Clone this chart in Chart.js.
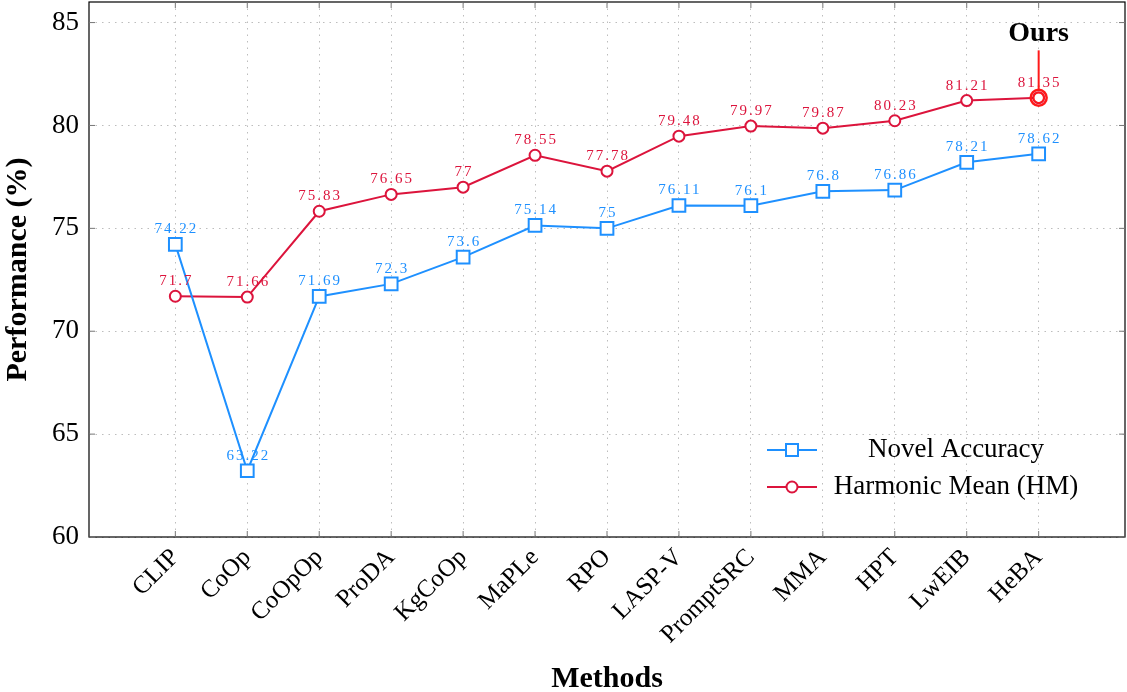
<!DOCTYPE html>
<html>
<head>
<meta charset="utf-8">
<script src="https://cdn.jsdelivr.net/npm/chart.js@4.4.0/dist/chart.umd.min.js"></script>
<style>
  html, body { margin: 0; padding: 0; background: #fff; }
  #wrap { width: 1127px; height: 692px; }
</style>
</head>
<body>
<div id="wrap"><canvas id="perfChart"></canvas></div>
<script>
const methods = ['CLIP', 'CoOp', 'CoOpOp', 'ProDA', 'KgCoOp', 'MaPLe', 'RPO', 'LASP-V', 'PromptSRC', 'MMA', 'HPT', 'LwEIB', 'HeBA'];
const novelAcc = [74.22, 63.22, 71.69, 72.3, 73.6, 75.14, 75, 76.11, 76.1, 76.8, 76.86, 78.21, 78.62];
const harmonicMean = [71.7, 71.66, 75.83, 76.65, 77, 78.55, 77.78, 79.48, 79.97, 79.87, 80.23, 81.21, 81.35];
const yTicks = [60, 65, 70, 75, 80, 85];

// "Ours" callout, in data units
const oursIndex = 12;
const oursLineTop = 83.65;
const oursTextY = 84.45;

const BLUE = '#1e90ff';
const RED = '#dc143c';
const OURS_RED = '#ff1a1a';
const SERIF = "'Liberation Serif', 'DejaVu Serif', serif";

const seriesValues = [novelAcc, harmonicMean];

const extras = {
    id: 'extras',
    afterDatasetsDraw(chart) {
        const c = chart.ctx;
        const area = chart.chartArea;
        const xs = chart.scales.x;
        const ys = chart.scales.y;

        // frame
        c.save();
        c.strokeStyle = '#000';
        c.lineWidth = 1.2;
        c.strokeRect(area.left, area.top, area.right - area.left, area.bottom - area.top);

        // inner tick marks
        c.strokeStyle = '#777';
        c.lineWidth = 1;
        c.beginPath();
        methods.forEach((m, i) => {
            const px = xs.getPixelForValue(i);
            c.moveTo(px, area.bottom); c.lineTo(px, area.bottom - 6);
            c.moveTo(px, area.top); c.lineTo(px, area.top + 6);
        });
        yTicks.forEach(v => {
            const py = ys.getPixelForValue(v);
            c.moveTo(area.left, py); c.lineTo(area.left + 6, py);
            c.moveTo(area.right, py); c.lineTo(area.right - 6, py);
        });
        c.stroke();

        // value labels
        c.font = '15px ' + SERIF;
        c.letterSpacing = '2px';
        c.textAlign = 'center';
        c.textBaseline = 'middle';
        chart.data.datasets.forEach((ds, di) => {
            const meta = chart.getDatasetMeta(di);
            c.fillStyle = ds.borderColor;
            meta.data.forEach((pt, i) => {
                c.fillText(String(seriesValues[di][i]), pt.x + 1, pt.y - 15);
            });
        });
        c.letterSpacing = '0px';

        // highlight for "Ours"
        const ox = xs.getPixelForValue(oursIndex);
        const oy = ys.getPixelForValue(harmonicMean[oursIndex]);
        c.strokeStyle = OURS_RED;
        c.lineWidth = 2.5;
        c.beginPath();
        c.arc(ox, oy, 8, 0, Math.PI * 2);
        c.stroke();
        c.lineWidth = 1.5;
        c.beginPath();
        c.arc(ox, oy, 5, 0, Math.PI * 2);
        c.stroke();
        c.lineWidth = 2;
        c.beginPath();
        c.moveTo(ox, oy - 8);
        c.lineTo(ox, ys.getPixelForValue(oursLineTop));
        c.stroke();
        c.fillStyle = '#000';
        c.font = 'bold 28px ' + SERIF;
        c.fillText('Ours', ox, ys.getPixelForValue(oursTextY));

        // legend
        const rows = [
            { label: 'Novel Accuracy', color: BLUE, style: 'rect', y: area.bottom - 87 },
            { label: 'Harmonic Mean (HM)', color: RED, style: 'circle', y: area.bottom - 50 }
        ];
        c.font = '27px ' + SERIF;
        rows.forEach(r => {
            const x0 = area.right - 358;
            c.strokeStyle = r.color;
            c.lineWidth = 2;
            c.beginPath();
            c.moveTo(x0, r.y); c.lineTo(x0 + 50, r.y);
            c.stroke();
            c.fillStyle = '#fff';
            c.beginPath();
            if (r.style === 'rect') c.rect(x0 + 19, r.y - 6, 12, 12);
            else c.arc(x0 + 25, r.y, 5.5, 0, Math.PI * 2);
            c.fill();
            c.stroke();
            c.fillStyle = '#000';
            c.fillText(r.label, area.right - 169, r.y);
        });
        c.restore();
    }
};

const gridStyle = {
    color: '#bdbdbd',
    lineWidth: 1,
    drawTicks: false
};

new Chart(document.getElementById('perfChart'), {
    type: 'line',
    data: {
        datasets: [{
            label: 'Novel Accuracy',
            data: novelAcc.map((v, i) => ({ x: i, y: v })),
            borderColor: BLUE,
            backgroundColor: '#fff',
            borderWidth: 2,
            pointStyle: 'rect',
            pointRadius: 9,
            pointBorderWidth: 2,
            pointBackgroundColor: '#fff',
            tension: 0
        }, {
            label: 'Harmonic Mean (HM)',
            data: harmonicMean.map((v, i) => ({ x: i, y: v })),
            borderColor: RED,
            backgroundColor: '#fff',
            borderWidth: 2,
            pointStyle: 'circle',
            pointRadius: 5.5,
            pointBorderWidth: 2,
            pointBackgroundColor: '#fff',
            tension: 0
        }]
    },
    options: {
        responsive: true,
        maintainAspectRatio: false,
        animation: false,
        layout: { autoPadding: false, padding: { top: 2, right: 2, left: 0, bottom: 0 } },
        plugins: {
            legend: { display: false },
            tooltip: { enabled: false }
        },
        scales: {
            x: {
                type: 'linear',
                min: -1.2,
                max: 13.2,
                afterBuildTicks: axis => { axis.ticks = methods.map((m, i) => ({ value: i })); },
                afterFit: axis => {
                    axis.height = 155;
                    axis.paddingLeft = 0;
                    axis.paddingRight = 0;
                },
                border: { display: false, dash: [1.5, 5] },
                grid: gridStyle,
                ticks: {
                    callback: v => methods[v],
                    autoSkip: false,
                    minRotation: 45,
                    maxRotation: 45,
                    padding: 6,
                    color: '#000',
                    font: { family: SERIF, size: 25 }
                },
                title: {
                    display: true,
                    text: 'Methods',
                    color: '#000',
                    padding: { top: 0, bottom: -2 },
                    font: { family: SERIF, size: 30, weight: 'bold', lineHeight: 1 }
                }
            },
            y: {
                min: 60,
                max: 86,
                afterBuildTicks: axis => { axis.ticks = yTicks.map(v => ({ value: v })); },
                afterFit: axis => {
                    axis.width = 89;
                    axis.paddingTop = 0;
                    axis.paddingBottom = 0;
                },
                border: { display: false, dash: [1.5, 5] },
                grid: gridStyle,
                ticks: {
                    padding: 10,
                    color: '#000',
                    font: { family: SERIF, size: 27 }
                },
                title: {
                    display: true,
                    text: 'Performance (%)',
                    color: '#000',
                    padding: { top: 0, bottom: 0 },
                    font: { family: SERIF, size: 30, weight: 'bold' }
                }
            }
        }
    },
    plugins: [extras]
});
</script>
</body>
</html>
